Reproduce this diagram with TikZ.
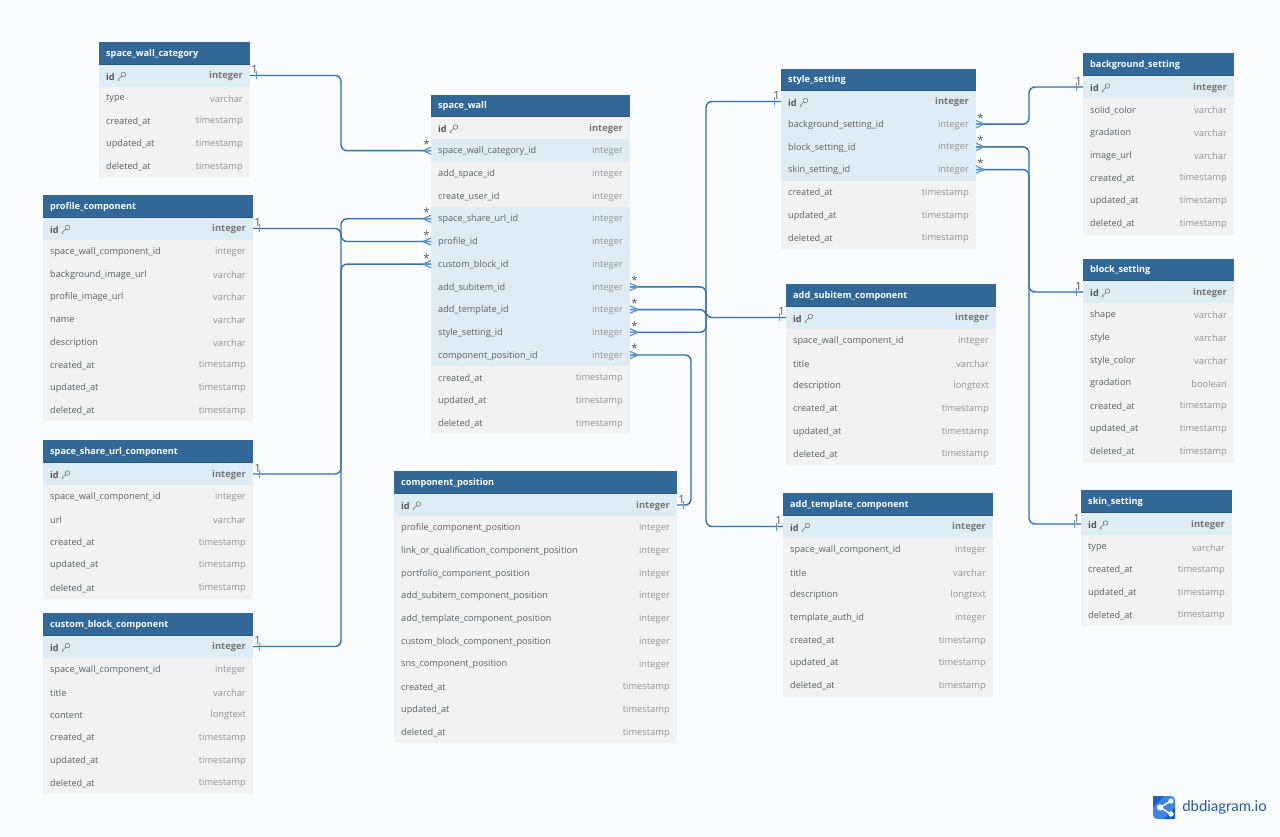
\documentclass[tikz,border=0pt]{standalone}
\usepackage{fontspec}
\setmainfont{Open Sans}
\newfontfamily\logofont{Lato}
\definecolor{pagebg}{HTML}{FBFCFD}
\definecolor{headbg}{HTML}{316897}
\definecolor{headln}{HTML}{28577F}
\definecolor{rowgrey}{HTML}{F2F2F2}
\definecolor{rowhi}{HTML}{DEEDF5}
\definecolor{txtfield}{HTML}{5A5E63}
\definecolor{txttype}{HTML}{949494}
\definecolor{txtid}{HTML}{555555}
\definecolor{relc}{HTML}{2F72AC}
\definecolor{crowc}{HTML}{5A97CC}
\definecolor{logoa}{HTML}{1F5FC4}
\definecolor{logob}{HTML}{3D85E0}
\definecolor{logot}{HTML}{1D5BA8}
\newcommand{\ffld}{\fontsize{6.85pt}{9pt}\selectfont}
\newcommand{\ftyp}{\fontsize{7pt}{9pt}\selectfont}
\tikzset{
  rowbase/.style={draw=none,inner sep=0pt,outer sep=0pt,minimum height=17.03pt},
  row-n/.style={rowbase,fill=rowgrey},
  row-h/.style={rowbase,fill=rowhi},
  row-p/.style={rowbase,fill=rowhi},
  row-g/.style={rowbase,fill=rowgrey},
  fldbase/.style={anchor=west,inner sep=0pt,xshift=5.2pt,yshift=-0.6pt,font=\ffld},
  fld-n/.style={fldbase,text=txtfield},
  fld-h/.style={fldbase,text=txtfield},
  fld-p/.style={fldbase,text=txtid,font=\ffld\bfseries},
  fld-g/.style={fldbase,text=txtid,font=\ffld\bfseries},
  typbase/.style={anchor=east,inner sep=0pt,xshift=-5.2pt,yshift=-0.6pt,font=\ftyp},
  typ-n/.style={typbase,text=txttype},
  typ-h/.style={typbase,text=txttype},
  typ-p/.style={typbase,text=txttype!80!black,font=\ftyp\bfseries},
  typ-g/.style={typbase,text=txttype!80!black,font=\ftyp\bfseries},
  headnode/.style={draw=none,fill=headbg,inner sep=0pt,outer sep=0pt},
  headtxt/.style={anchor=west,inner sep=0pt,xshift=5.2pt,yshift=-0.6pt,text=white,font=\ffld\bfseries},
  rel/.style={draw=relc,line width=1.05pt,rounded corners=4.5pt},
  crow/.style={draw=crowc,line width=0.95pt},
  card/.style={inner sep=0pt,text=txtid,font=\fontsize{8.5pt}{10pt}\selectfont},
}
\newcommand{\idkey}{id\hspace{2.4pt}\tikz[baseline=0pt,x=1pt,y=1pt]{\draw[txttype!80!black,line width=.45pt] (4.3,4.2) circle (1.7) (3.1,3) -- (0.4,0.6) -- (0.4,-0.2) -- (1.5,-0.2);}}
% \tbl{name}{x1}{x2}{top}{idy}{title}{rows}
\newcommand{\tbl}[7]{%
  \pgfmathsetmacro{\tabw}{(#3-#2)*0.75}%
  \pgfmathsetmacro{\headh}{(#5-11.35-#4)*0.75}%
  \pgfmathsetmacro{\xmid}{(#2+#3)/2}%
  \pgfmathsetmacro{\ymid}{(#4+#5-11.35)/2}%
  \node[headnode,minimum width=\tabw pt,minimum height=\headh pt] (#1-h) at (\xmid,\ymid) {};
  \node[headtxt] (#1-title) at (#1-h.west) {#6};
  \foreach \fn/\ty/\kd [count=\rn] in {#7} {
    \pgfmathsetmacro{\rowy}{#5+(\rn-1)*22.7}
    \node[row-\kd,minimum width=\tabw pt] (#1-\rn) at (\xmid,\rowy) {};
    \node[fld-\kd] (#1-\rn-f) at (#1-\rn.west) {\fn};
    \node[typ-\kd] (#1-\rn-t) at (#1-\rn.east) {\ty};
  }
  \draw[headln,line width=.8pt] (#1-h.south west) -- (#1-h.south east);
}
% \conn{from}{anchor}{bus}{to}{anchor}
\newcommand{\conn}[5]{\draw[rel] (#1.#2) -- (#1.#2 -| #3) -- (#3 |- #4.#5) -- (#4.#5);}
% \many{node}{anchor}{dir}
\newcommand{\many}[3]{%
  \draw[crow] ([shift={(#3*8,0)}]#1.#2) -- ([shift={(0,-3.6)}]#1.#2)
    ([shift={(#3*8,0)}]#1.#2) -- ([shift={(0,3.6)}]#1.#2)
    ([shift={(#3*8,0)}]#1.#2) -- (#1.#2);
  \node[card] (#1-card) at ([shift={(#3*4.5,-6.5)}]#1.#2) {*};
}
\newcommand{\one}[3]{%
  \draw[crow] ([shift={(#3*6.5,-4)}]#1.#2) -- ([shift={(#3*6.5,4)}]#1.#2);
  \node[card] (#1-card) at ([shift={(#3*4.5,-6)}]#1.#2) {1};
}
\begin{document}
\begin{tikzpicture}[x=0.75pt,y=-0.75pt]
\useasboundingbox[fill=pagebg] (0,0) rectangle (1280,837);
\coordinate (busL) at (341,0);
\coordinate (busM) at (706,0);
\coordinate (busP) at (691,0);
\coordinate (busR) at (1029,0);

\tbl{swc}{99}{250}{42}{75.5}{space\_wall\_category}{\idkey/integer/p,type/varchar/n,created\_at/timestamp/n,updated\_at/timestamp/n,deleted\_at/timestamp/n}
\tbl{pc}{43}{253}{195}{228.5}{profile\_component}{\idkey/integer/p,space\_wall\_component\_id/integer/n,background\_image\_url/varchar/n,profile\_image\_url/varchar/n,name/varchar/n,description/varchar/n,created\_at/timestamp/n,updated\_at/timestamp/n,deleted\_at/timestamp/n}
\tbl{ssu}{43}{253}{440}{474}{space\_share\_url\_component}{\idkey/integer/p,space\_wall\_component\_id/integer/n,url/varchar/n,created\_at/timestamp/n,updated\_at/timestamp/n,deleted\_at/timestamp/n}
\tbl{cb}{43}{253}{613}{646.5}{custom\_block\_component}{\idkey/integer/p,space\_wall\_component\_id/integer/n,title/varchar/n,content/longtext/n,created\_at/timestamp/n,updated\_at/timestamp/n,deleted\_at/timestamp/n}
\tbl{sw}{431}{630}{95}{128}{space\_wall}{\idkey/integer/g,space\_wall\_category\_id/integer/h,add\_space\_id/integer/n,create\_user\_id/integer/n,space\_share\_url\_id/integer/h,profile\_id/integer/h,custom\_block\_id/integer/h,add\_subitem\_id/integer/h,add\_template\_id/integer/h,style\_setting\_id/integer/h,component\_position\_id/integer/h,created\_at/timestamp/n,updated\_at/timestamp/n,deleted\_at/timestamp/n}
\tbl{cp}{394}{677}{471}{505}{component\_position}{\idkey/integer/p,profile\_component\_position/integer/n,link\_or\_qualification\_component\_position/integer/n,portfolio\_component\_position/integer/n,add\_subitem\_component\_position/integer/n,add\_template\_component\_position/integer/n,custom\_block\_component\_position/integer/n,sns\_component\_position/integer/n,created\_at/timestamp/n,updated\_at/timestamp/n,deleted\_at/timestamp/n}
\tbl{ss}{781}{976}{69}{101.5}{style\_setting}{\idkey/integer/p,background\_setting\_id/integer/h,block\_setting\_id/integer/h,skin\_setting\_id/integer/h,created\_at/timestamp/n,updated\_at/timestamp/n,deleted\_at/timestamp/n}
\tbl{as}{786}{996}{284}{317.5}{add\_subitem\_component}{\idkey/integer/p,space\_wall\_component\_id/integer/n,title/varchar/n,description/longtext/n,created\_at/timestamp/n,updated\_at/timestamp/n,deleted\_at/timestamp/n}
\tbl{at}{783}{993}{493}{526.5}{add\_template\_component}{\idkey/integer/p,space\_wall\_component\_id/integer/n,title/varchar/n,description/longtext/n,template\_auth\_id/integer/n,created\_at/timestamp/n,updated\_at/timestamp/n,deleted\_at/timestamp/n}
\tbl{bg}{1083}{1234}{53}{87}{background\_setting}{\idkey/integer/p,solid\_color/varchar/n,gradation/varchar/n,image\_url/varchar/n,created\_at/timestamp/n,updated\_at/timestamp/n,deleted\_at/timestamp/n}
\tbl{bl}{1083}{1234}{259}{292}{block\_setting}{\idkey/integer/p,shape/varchar/n,style/varchar/n,style\_color/varchar/n,gradation/boolean/n,created\_at/timestamp/n,updated\_at/timestamp/n,deleted\_at/timestamp/n}
\tbl{sk}{1081}{1232}{490}{524}{skin\_setting}{\idkey/integer/p,type/varchar/n,created\_at/timestamp/n,updated\_at/timestamp/n,deleted\_at/timestamp/n}

\conn{swc-1}{east}{busL}{sw-2}{west}
\conn{pc-1}{east}{busL}{sw-6}{west}
\conn{ssu-1}{east}{busL}{sw-5}{west}
\conn{cb-1}{east}{busL}{sw-7}{west}
\conn{sw-8}{east}{busM}{as-1}{west}
\conn{sw-9}{east}{busM}{at-1}{west}
\conn{sw-10}{east}{busM}{ss-1}{west}
\conn{sw-11}{east}{busP}{cp-1}{east}
\conn{ss-2}{east}{busR}{bg-1}{west}
\conn{ss-3}{east}{busR}{bl-1}{west}
\conn{ss-4}{east}{busR}{sk-1}{west}

\one{swc-1}{east}{1}
\one{pc-1}{east}{1}
\one{ssu-1}{east}{1}
\one{cb-1}{east}{1}
\one{as-1}{west}{-1}
\one{at-1}{west}{-1}
\one{ss-1}{west}{-1}
\one{cp-1}{east}{1}
\one{bg-1}{west}{-1}
\one{bl-1}{west}{-1}
\one{sk-1}{west}{-1}
\many{sw-2}{west}{-1}
\many{sw-5}{west}{-1}
\many{sw-6}{west}{-1}
\many{sw-7}{west}{-1}
\many{sw-8}{east}{1}
\many{sw-9}{east}{1}
\many{sw-10}{east}{1}
\many{sw-11}{east}{1}
\many{ss-2}{east}{1}
\many{ss-3}{east}{1}
\many{ss-4}{east}{1}

% logo
\fill[logob,rounded corners=3pt] (1153,796) rectangle (1175,819);
\fill[logoa] (1153,807) -- (1164,796) -- (1153,796) -- cycle;
\fill[logoa] (1175,807.5) -- (1164,819) -- (1175,819) -- cycle;
\draw[white,line width=1.1pt] (1171,801) -- (1160,807.5) -- (1171,814);
\fill[white] (1160,807.5) circle (3.1) (1171,801) circle (2.7) (1171,814) circle (2.7);
\node[anchor=west,inner sep=0pt,text=logot,font=\logofont\fontsize{11.2pt}{13pt}\selectfont] (logo) at (1182,807.5) {dbdiagram.io};
\end{tikzpicture}
\end{document}
